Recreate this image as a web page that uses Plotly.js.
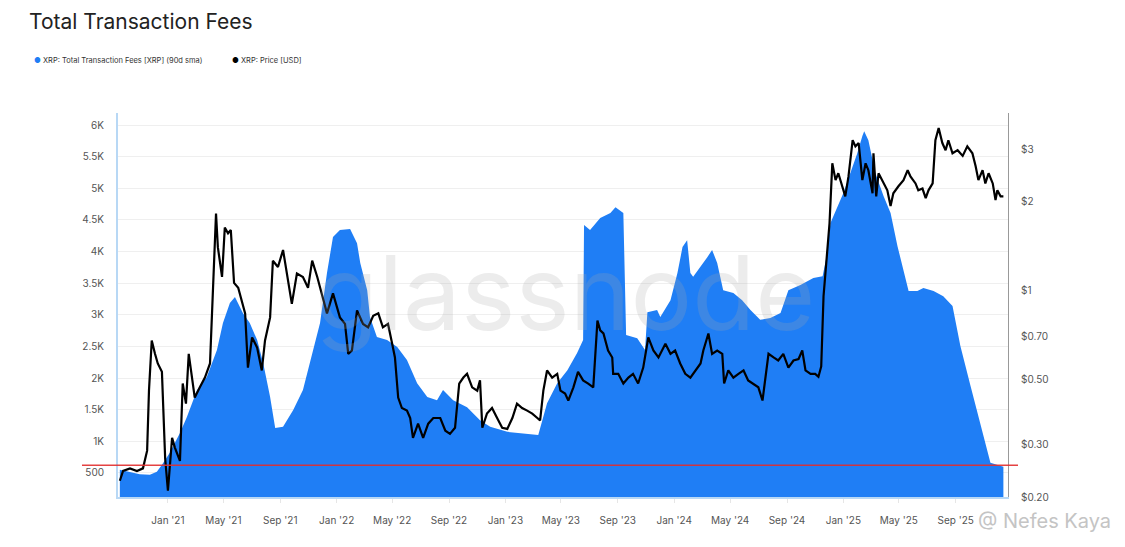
<!DOCTYPE html>
<html><head><meta charset="utf-8">
<script src="https://cdn.plot.ly/plotly-3.0.1.min.js"></script>
<style>html,body{margin:0;padding:0;background:#fff;} #chart{width:1125px;height:547px;}</style>
</head><body><div id="chart"></div>
<script>
const feeDates = ['2020-09-19','2020-10-11','2020-11-01','2020-11-23','2020-12-08','2020-12-21','2021-01-05','2021-01-27','2021-02-11','2021-03-05','2021-03-26','2021-04-17','2021-04-30','2021-05-15','2021-05-26','2021-06-12','2021-06-27','2021-07-13','2021-07-26','2021-08-10','2021-08-21','2021-09-07','2021-09-29','2021-10-20','2021-11-11','2021-11-26','2021-12-11','2021-12-24','2022-01-08','2022-01-30','2022-02-14','2022-02-21','2022-03-08','2022-03-14','2022-03-29','2022-04-20','2022-05-12','2022-06-02','2022-06-24','2022-07-16','2022-08-06','2022-08-19','2022-09-10','2022-10-10','2022-11-07','2022-11-29','2023-01-05','2023-02-08','2023-03-13','2023-04-01','2023-04-23','2023-05-15','2023-06-05','2023-06-18','2023-06-20','2023-07-03','2023-07-25','2023-08-16','2023-08-27','2023-09-13','2023-09-19','2023-10-13','2023-10-30','2023-11-04','2023-11-25','2023-12-02','2023-12-24','2024-01-08','2024-01-19','2024-01-29','2024-02-05','2024-02-11','2024-02-27','2024-03-13','2024-03-23','2024-04-03','2024-04-16','2024-05-08','2024-05-27','2024-06-14','2024-07-05','2024-07-27','2024-08-18','2024-09-04','2024-09-30','2024-10-28','2024-11-17','2024-11-25','2024-12-04','2024-12-19','2025-01-01','2025-01-16','2025-01-31','2025-02-11','2025-02-15','2025-02-24','2025-03-11','2025-03-29','2025-04-13','2025-04-28','2025-05-09','2025-05-22','2025-06-10','2025-06-23','2025-07-15','2025-08-05','2025-08-25','2025-09-11','2025-10-03','2025-10-25','2025-11-15','2025-12-13'];
const feeValues = [550,520,480,470,520,650,820,1130,1385,1810,2015,2445,2870,3185,3280,3030,2870,2600,2240,1700,1210,1230,1495,1810,2445,2870,3660,4230,4340,4355,4130,3820,3390,2965,2650,2600,2490,2285,1920,1700,1650,1810,1650,1540,1335,1230,1150,1130,1100,1600,1920,2125,2395,2600,4420,4340,4530,4610,4700,4610,2680,2630,2445,3040,3075,2965,3230,3660,4070,4180,3660,3600,3755,3915,4025,3820,3390,3345,3230,3075,2920,2950,3030,3390,3470,3580,3610,3900,4450,4720,4925,5240,5555,5825,5900,5760,5240,4875,4610,4085,3770,3375,3375,3425,3375,3295,3140,2505,1875,1240,660,600];

const priceDates = ['2020-09-19','2020-09-26','2020-10-11','2020-10-26','2020-11-08','2020-11-17','2020-11-21','2020-11-27','2020-12-04','2020-12-10','2020-12-19','2020-12-26','2021-01-01','2021-01-10','2021-01-16','2021-01-27','2021-02-02','2021-02-09','2021-02-15','2021-02-22','2021-02-28','2021-03-11','2021-03-22','2021-04-02','2021-04-08','2021-04-15','2021-04-19','2021-04-28','2021-05-04','2021-05-11','2021-05-17','2021-05-24','2021-06-02','2021-06-10','2021-06-17','2021-06-23','2021-07-02','2021-07-13','2021-07-23','2021-07-30','2021-08-10','2021-08-16','2021-08-27','2021-09-07','2021-09-16','2021-09-26','2021-10-07','2021-10-20','2021-10-31','2021-11-09','2021-11-20','2021-11-30','2021-12-11','2021-12-24','2022-01-08','2022-01-19','2022-01-26','2022-02-03','2022-02-14','2022-02-27','2022-03-10','2022-03-21','2022-04-01','2022-04-11','2022-04-22','2022-05-01','2022-05-07','2022-05-14','2022-05-22','2022-06-02','2022-06-09','2022-06-15','2022-06-26','2022-07-07','2022-07-18','2022-07-29','2022-08-13','2022-08-24','2022-09-03','2022-09-14','2022-09-23','2022-10-02','2022-10-10','2022-10-21','2022-11-01','2022-11-07','2022-11-12','2022-11-22','2022-12-03','2022-12-14','2022-12-25','2023-01-05','2023-01-16','2023-01-26','2023-02-06','2023-02-17','2023-02-28','2023-03-11','2023-03-17','2023-03-24','2023-04-01','2023-04-12','2023-04-23','2023-04-30','2023-05-10','2023-05-17','2023-05-28','2023-06-07','2023-06-18','2023-06-29','2023-07-10','2023-07-19','2023-07-25','2023-08-01','2023-08-11','2023-08-20','2023-08-22','2023-09-02','2023-09-13','2023-09-24','2023-10-04','2023-10-15','2023-10-26','2023-11-06','2023-11-17','2023-11-28','2023-12-13','2023-12-24','2024-01-03','2024-01-14','2024-01-25','2024-02-05','2024-02-16','2024-02-27','2024-03-04','2024-03-15','2024-03-23','2024-04-03','2024-04-14','2024-04-18','2024-04-27','2024-05-08','2024-05-19','2024-05-30','2024-06-09','2024-06-20','2024-07-01','2024-07-10','2024-07-16','2024-07-23','2024-08-03','2024-08-13','2024-08-24','2024-09-04','2024-09-15','2024-09-26','2024-10-04','2024-10-11','2024-10-22','2024-11-01','2024-11-08','2024-11-14','2024-11-19','2024-11-27','2024-12-02','2024-12-08','2024-12-15','2024-12-21','2024-12-30','2025-01-05','2025-01-12','2025-01-21','2025-01-27','2025-02-03','2025-02-11','2025-02-18','2025-02-24','2025-03-05','2025-03-07','2025-03-13','2025-03-18','2025-03-26','2025-04-06','2025-04-13','2025-04-19','2025-04-30','2025-05-11','2025-05-20','2025-05-26','2025-06-06','2025-06-12','2025-06-21','2025-06-28','2025-07-04','2025-07-13','2025-07-19','2025-07-26','2025-08-03','2025-08-10','2025-08-16','2025-08-25','2025-09-05','2025-09-16','2025-09-26','2025-10-07','2025-10-14','2025-10-20','2025-10-29','2025-11-04','2025-11-11','2025-11-20','2025-11-26','2025-11-30','2025-12-07','2025-12-13'];
const priceValues = [0.227,0.245,0.25,0.245,0.25,0.287,0.458,0.677,0.61,0.566,0.53,0.27,0.21,0.317,0.294,0.265,0.484,0.414,0.61,0.507,0.434,0.47,0.507,0.566,1.0,1.82,1.4,1.11,1.63,1.56,1.6,1.06,1.02,0.925,0.836,0.548,0.693,0.64,0.536,0.677,0.81,1.26,1.2,1.37,1.11,0.9,1.14,1.11,1.02,1.26,1.11,0.977,0.836,0.977,0.81,0.77,0.61,0.626,0.855,0.77,0.75,0.82,0.836,0.75,0.77,0.66,0.593,0.434,0.4,0.392,0.37,0.317,0.354,0.317,0.354,0.37,0.37,0.335,0.327,0.343,0.484,0.507,0.522,0.47,0.458,0.496,0.343,0.383,0.4,0.37,0.343,0.34,0.37,0.414,0.4,0.392,0.383,0.37,0.363,0.458,0.536,0.507,0.522,0.458,0.448,0.424,0.47,0.53,0.496,0.484,0.47,0.79,0.732,0.715,0.626,0.593,0.522,0.522,0.484,0.507,0.522,0.484,0.548,0.693,0.626,0.593,0.66,0.61,0.626,0.566,0.522,0.507,0.536,0.566,0.626,0.715,0.61,0.626,0.61,0.484,0.536,0.507,0.522,0.536,0.496,0.484,0.47,0.424,0.507,0.61,0.593,0.579,0.61,0.548,0.579,0.586,0.626,0.536,0.522,0.522,0.51,0.553,0.955,1.41,1.69,2.69,2.36,2.49,2.25,2.08,2.43,3.22,3.07,3.15,2.36,2.69,2.55,2.13,2.91,2.08,2.49,2.36,2.18,1.93,2.13,2.25,2.36,2.55,2.43,2.30,2.18,2.21,2.05,2.18,2.30,3.22,3.54,3.15,2.98,3.22,2.91,2.98,2.85,3.07,2.91,2.63,2.36,2.55,2.30,2.49,2.30,2.02,2.18,2.08,2.08];

const leftTickVals = [500,1000,1500,2000,2500,3000,3500,4000,4500,5000,5500,6000];
const leftTickText = ['500','1K','1.5K','2K','2.5K','3K','3.5K','4K','4.5K','5K','5.5K','6K'];
const rightTickVals = [0.2,0.3,0.5,0.7,1,2,3];
const rightTickText = ['$0.20','$0.30','$0.50','$0.70','$1','$2','$3'];
const xTickVals = ['2021-01-01','2021-05-01','2021-09-01','2022-01-01','2022-05-01','2022-09-01','2023-01-01','2023-05-01','2023-09-01','2024-01-01','2024-05-01','2024-09-01','2025-01-01','2025-05-01','2025-09-01'];
const xTickText = ["Jan '21","May '21","Sep '21","Jan '22","May '22","Sep '22","Jan '23","May '23","Sep '23","Jan '24","May '24","Sep '24","Jan '25","May '25","Sep '25"];
const thresholdFee = 620;

const blue = '#1f7ef5';
const tickFont = {family: 'Inter, "Open Sans", sans-serif', size: 10, color: '#555'};

const traces = [
  {x: feeDates, y: feeValues, type: 'scatter', mode: 'lines', fill: 'tozeroy',
   fillcolor: blue, line: {width: 0, color: blue, shape: 'linear'}, yaxis: 'y', showlegend: false, hoverinfo: 'skip'},
  {x: priceDates, y: priceValues, type: 'scatter', mode: 'lines',
   line: {width: 2.2, color: '#000'}, yaxis: 'y2', showlegend: false, hoverinfo: 'skip'}
];

const P = (px) => (px - 118) / 890;
const Q = (py) => (497 - py) / 384;

const layout = {
  width: 1125, height: 547,
  margin: {l: 118, r: 117, t: 113, b: 50, pad: 0},
  paper_bgcolor: '#fff', plot_bgcolor: '#fff',
  title: {text: 'Total Transaction Fees', x: 29/1125, xanchor: 'left', xref: 'container',
          y: 1 - 22/547, yanchor: 'middle', yref: 'container',
          font: {family: 'Inter, "Open Sans", sans-serif', size: 21, color: '#222'}},
  showlegend: false,
  xaxis: {type: 'date', range: ['2020-09-15', '2025-12-23'], tickvals: xTickVals, ticktext: xTickText,
          showgrid: false, zeroline: false, showline: true, linecolor: '#b8d8f5', linewidth: 2,
          ticks: 'outside', ticklen: 4, tickcolor: '#e6e6e6', ticklabelstandoff: 9, tickfont: tickFont, fixedrange: true},
  yaxis: {range: [120, 6190], tickvals: leftTickVals, ticktext: leftTickText, showgrid: true,
          gridcolor: '#efefef', gridwidth: 1, zeroline: false, showline: true, linecolor: '#b8d8f5', linewidth: 2,
          ticks: '', ticklabelstandoff: 10, tickfont: tickFont, fixedrange: true},
  yaxis2: {type: 'log', range: [Math.log10(0.2), 0.60], overlaying: 'y', side: 'right',
           tickvals: rightTickVals, ticktext: rightTickText, showgrid: false, zeroline: false,
           showline: true, linecolor: '#999', linewidth: 1, ticks: '', ticklabelstandoff: 10,
           tickfont: tickFont, fixedrange: true},
  shapes: [
    {type: 'line', xref: 'paper', yref: 'y', x0: P(82), x1: P(1018), y0: thresholdFee, y1: thresholdFee,
     line: {color: 'rgba(225,45,45,0.9)', width: 1.5}, layer: 'above'}
  ],
  annotations: [
    {xref: 'paper', yref: 'paper', x: P(32), y: Q(60), xanchor: 'left', yanchor: 'middle', showarrow: false,
     text: '<span style="color:' + blue + '">●</span> XRP: Total Transaction Fees [XRP] (90d sma)',
     font: {family: 'Inter, "Open Sans", sans-serif', size: 7.5, color: '#333'}},
    {xref: 'paper', yref: 'paper', x: P(230), y: Q(60), xanchor: 'left', yanchor: 'middle', showarrow: false,
     text: '<span style="color:#000">●</span> XRP: Price [USD]',
     font: {family: 'Inter, "Open Sans", sans-serif', size: 7.5, color: '#333'}},
    {xref: 'paper', yref: 'paper', x: P(565), y: Q(292), xanchor: 'center', yanchor: 'middle', showarrow: false,
     text: 'glassnode', font: {family: 'Inter, "Open Sans", sans-serif', size: 103, color: 'rgba(170,170,170,0.22)'}},
    {xref: 'paper', yref: 'paper', x: P(976), y: Q(521), xanchor: 'left', yanchor: 'middle', showarrow: false,
     text: '@ Nefes Kaya', font: {family: 'Inter, "Open Sans", sans-serif', size: 20, color: '#c4c4c4'}}
  ]
};

Plotly.newPlot('chart', traces, layout, {displayModeBar: false, staticPlot: true});
</script>
</body></html>
